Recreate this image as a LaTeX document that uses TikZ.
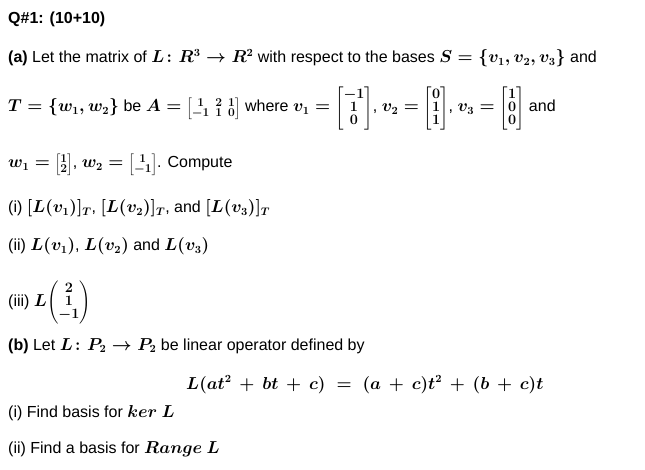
\documentclass[tikz,border=0pt]{standalone}
\usepackage{amsmath}
\usepackage{fontspec}
\setmainfont{Liberation Sans}
\newcommand{\bmm}[1]{\boldsymbol{#1}}
\newcommand{\smat}[1]{\mbox{\fontsize{13}{14}\selectfont\renewcommand\arraystretch{0.7}\setlength\arraycolsep{3pt}$\boldsymbol{\left[\begin{matrix}#1\end{matrix}\right]}$}}
\newcommand{\vmat}[1]{\mbox{\fontsize{14}{15}\selectfont\renewcommand\arraystretch{0.85}$\boldsymbol{\begin{bmatrix}#1\end{bmatrix}}$}}
\newcommand{\pmat}[1]{\mbox{\fontsize{14}{15}\selectfont\renewcommand\arraystretch{0.85}$\boldsymbol{\begin{pmatrix}#1\end{pmatrix}}$}}
\tikzset{txt/.style={anchor=base west,inner sep=0pt,font=\fontsize{16}{19}\selectfont}}
\begin{document}
\begin{tikzpicture}[x=1pt,y=-1pt]
\useasboundingbox (0,0) rectangle (645,470);
\node[txt] (t0) at (8,24) {\textbf{Q\#1: (10+10)}};
\node[txt] (t1) at (8,63) {\textbf{(a)} Let the matrix of $\bmm{L\colon R^3\to R^2}$ with respect to the bases $\bmm{S=\{v_1,v_2,v_3\}}$ and};
\node[txt] (t2) at (8,112) {$\bmm{T=\{w_1,w_2\}}$ be $\bmm{A=}\smat{1&2&1\\-1&1&0}$ where $\bmm{v_1=}\vmat{-1\\1\\0}$, $\bmm{v_2=}\vmat{0\\1\\1}$, $\bmm{v_3=}\vmat{1\\0\\0}$ and};
\node[txt] (t3) at (8,168) {$\bmm{w_1=}\smat{1\\2}$, $\bmm{w_2=}\smat{1\\-1}$. Compute};
\node[txt] (t4) at (8,213) {(i) $\bmm{[L(v_1)]_T}$, $\bmm{[L(v_2)]_T}$, and $\bmm{[L(v_3)]_T}$};
\node[txt] (t5) at (8,251) {(ii) $\bmm{L(v_1)}$, $\bmm{L(v_2)}$ and $\bmm{L(v_3)}$};
\node[txt] (t6) at (8,306) {(iii) $\bmm{L}$\pmat{2\\1\\-1}};
\node[txt] (t7) at (8,350) {\textbf{(b)} Let $\bmm{L\colon P_2\to P_2}$ be linear operator defined by};
\node[txt] (t8) at (186,389) {$\bmm{L(at^2\,+\,bt\,+\,c)\;=\;(a\,+\,c)t^2\,+\,(b\,+\,c)t}$};
\node[txt] (t9) at (8,417) {(i) Find basis for $\bmm{ker\ L}$};
\node[txt] (t10) at (8,453) {(ii) Find a basis for $\bmm{Range\ L}$};
\end{tikzpicture}
\end{document}
